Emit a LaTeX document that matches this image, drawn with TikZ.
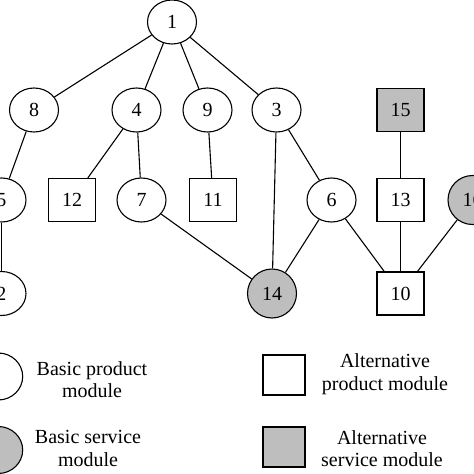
\documentclass[tikz,border=0pt]{standalone}
\usepackage{tikz}
\usepackage{fontspec}
\setmainfont{Liberation Serif}
\usetikzlibrary{shapes.geometric}
\definecolor{modgray}{RGB}{190,190,190}

\begin{document}
\begin{tikzpicture}[x=1pt, y=-1pt, line width=1.1pt,
	every node/.style={font=\fontsize{20}{22.5}\selectfont},
	prod/.style={draw, ellipse, minimum width=49pt, minimum height=44pt, inner sep=0pt},
	serv/.style={draw, circle, fill=modgray, minimum size=49pt, inner sep=0pt},
	alt/.style={draw, rectangle, minimum width=47pt, minimum height=43pt, inner sep=0pt},
	altserv/.style={alt, fill=modgray},
	legtext/.style={align=center, inner sep=0pt}]
	\useasboundingbox (0,0) rectangle (474,474);
	\clip (0,0) rectangle (474,474);
	% modules
	\node[prod] (m1) at (172,22) {1};
	\node[prod] (m8) at (34,110) {8};
	\node[prod] (m4) at (136.5,110) {4};
	\node[prod] (m9) at (207.5,110) {9};
	\node[prod] (m3) at (276.5,110) {3};
	\node[altserv] (m15) at (400.5,110) {15};
	\node[prod] (m5) at (1.5,200) {5};
	\node[alt] (m12) at (72,200) {12};
	\node[prod] (m7) at (141.5,200) {7};
	\node[alt] (m11) at (213,200) {11};
	\node[prod] (m6) at (331.5,200) {6};
	\node[alt] (m13) at (400.5,200) {13};
	\node[serv] (m16) at (472.5,200) {16};
	\node[prod] (m2) at (1.5,293.5) {2};
	\node[serv] (m14) at (272,293.5) {14};
	\node[alt] (m10) at (400.5,293.5) {10};
	% links
	\draw (m1) -- (m8);
	\draw (m1) -- (m4);
	\draw (m1) -- (m9);
	\draw (m1) -- (m3);
	\draw (m8) -- (m5);
	\draw (m5) -- (m2);
	\draw (m4) -- (m12);
	\draw (m4) -- (m7);
	\draw (m9) -- (m11);
	\draw (m3) -- (m14);
	\draw (m3) -- (m6);
	\draw (m7) -- (m14);
	\draw (m6) -- (m14);
	\draw (m6) -- (m10);
	\draw (m15) -- (m13);
	\draw (m13) -- (m10);
	\draw (m16) -- (m10);
	% legend
	\node[prod, minimum height=47pt] (lprod) at (-1.8,376.5) {};
	\node[legtext] (tprod) at (92,379.5) {Basic product\\module};
	\node[prod, fill=modgray, minimum height=47pt] (lserv) at (-1.8,450) {};
	\node[legtext] (tserv) at (88,448.5) {Basic service\\module};
	\node[alt, minimum width=42pt, minimum height=40pt] (lalt) at (284,375) {};
	\node[legtext] (talt) at (385,374) {Alternative\\product module};
	\node[altserv, minimum width=42pt, minimum height=40pt] (laltserv) at (284,447) {};
	\node[legtext] (taltserv) at (382,448.5) {Alternative\\service module};
\end{tikzpicture}
\end{document}
